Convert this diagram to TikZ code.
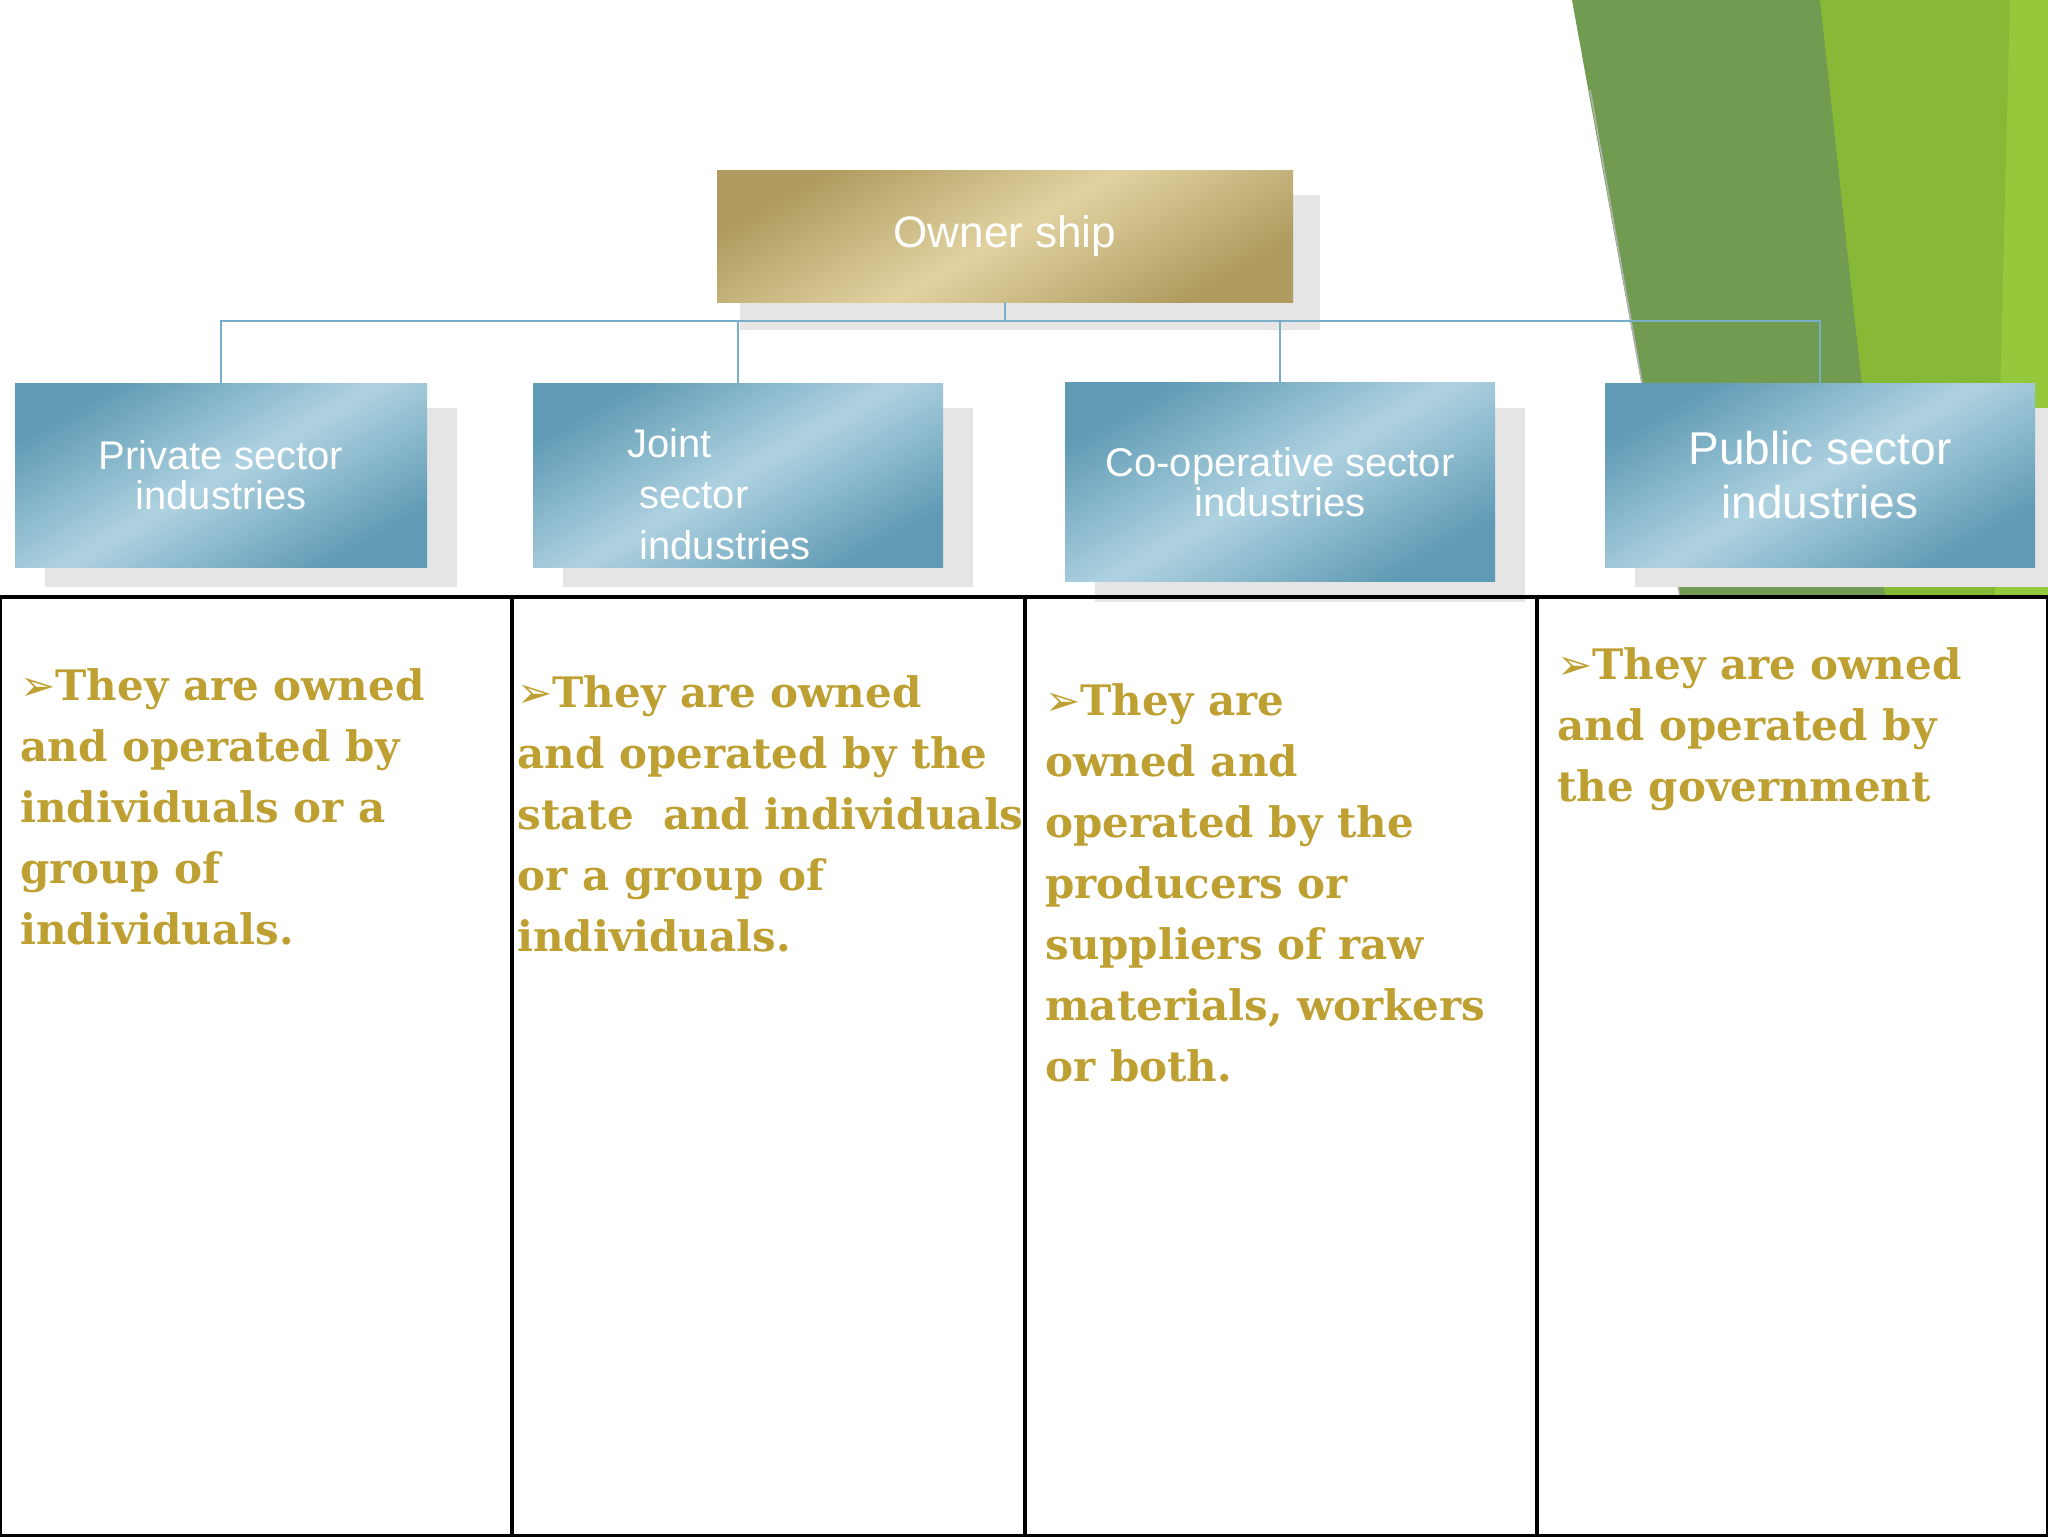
\documentclass[tikz,border=0pt]{standalone}
\usepackage{fontspec}
\setmainfont{Liberation Sans}
\newfontfamily\serifb{DejaVu Serif}
\newfontfamily\dejavu{DejaVu Sans}
\definecolor{goldt}{RGB}{190,160,50}
\definecolor{gold1}{RGB}{175,155,95}
\definecolor{gold2}{RGB}{225,210,160}
\definecolor{blue1}{RGB}{95,155,180}
\definecolor{blue2}{RGB}{175,210,225}
\definecolor{dgreen}{RGB}{112,155,80}
\definecolor{lgreen}{RGB}{135,185,55}
\definecolor{bgreen}{RGB}{150,200,60}
\definecolor{conn}{RGB}{120,175,200}
\tikzset{
  topbox/.style={draw=none,left color=gold1,right color=gold1,middle color=gold2,shading angle=30,text=white,font=\fontsize{22}{26}\selectfont,align=center,inner sep=0pt},
  catbox/.style={draw=none,left color=blue1,right color=blue1,middle color=blue2,shading angle=30,text=white,font=\fontsize{20}{20}\selectfont,align=center,inner sep=0pt},
  desc/.style={anchor=north west,text=goldt,font=\serifb\bfseries\fontsize{21}{30.5}\selectfont,align=left,inner sep=0pt},
  conline/.style={draw=conn,line width=1pt},
  tabline/.style={draw=black,line width=2pt}
}
\begin{document}
\begin{tikzpicture}[x=0.5pt,y=-0.5pt]
\useasboundingbox (0,0) rectangle (2048,1536);
\fill[white] (0,0) rectangle (2048,1536);
% green decoration
\fill[dgreen] (1572,0) -- (2048,0) -- (2048,597) -- (1680,597) -- cycle;
\fill[lgreen] (1820,0) -- (2048,0) -- (2048,597) -- (1885,597) -- cycle;
\fill[bgreen] (2010,0) -- (2048,0) -- (2048,597) -- (1995,597) -- cycle;
\draw[gray!60,line width=0.8pt] (1590,90) -- (1680,597);
% shadows
\fill[gray!20] (740,195) rectangle (1320,330);
\foreach \a/\b/\c/\d in {15/383/427/567,533/383/943/567,1065/383/1495/582,1605/383/2035/567}
  \fill[gray!20] (\a+30,\b+25) rectangle (\c+30,\d+20);
% top box
\node[topbox,minimum width=288pt,minimum height=66pt] (own) at (1005,236) {Owner ship};
% category boxes
\node[catbox,minimum width=206pt,minimum height=92pt] (priv) at (221,475) {Private sector\\industries};
\node[catbox,minimum width=205pt,minimum height=92pt] (joint) at (738,475) {};
\node[text=white,font=\fontsize{20}{25.5}\selectfont,align=left,anchor=north west,inner sep=0pt] (jointt) at (627,428) {Joint\\\hspace*{6pt}sector\\\hspace*{6pt}industries};
\node[catbox,minimum width=215pt,minimum height=99.5pt] (coop) at (1280,482) {Co-operative sector\\industries};
\node[catbox,minimum width=215pt,minimum height=92pt,font=\fontsize{23}{27}\selectfont] (pub) at (1820,475) {Public sector\\industries};
% connectors
\coordinate (hub) at (1005,321);
\draw[conline] (own.south) -- (hub);
\draw[conline] (priv.north) |- (hub);
\draw[conline] (joint.north) |- (hub);
\draw[conline] (coop.north) |- (hub);
\draw[conline] (pub.north) |- (hub);
% table
\draw[tabline] (0,597) rectangle (2048,1536);
\draw[tabline] (512,597) -- (512,1536);
\draw[tabline] (1025,597) -- (1025,1536);
\draw[tabline] (1537,597) -- (1537,1536);
% descriptions
\node[desc] (d1) at (20,668) {{\dejavu\mdseries ➢}They are owned\\and operated by\\individuals or a\\group of\\individuals.};
\node[desc] (d2) at (517,675) {{\dejavu\mdseries ➢}They are owned\\and operated by the\\state\ \ and individuals\\or a group of\\individuals.};
\node[desc] (d3) at (1045,683) {{\dejavu\mdseries ➢}They are\\owned and\\operated by the\\producers or\\suppliers of raw\\materials, workers\\or both.};
\node[desc] (d4) at (1557,647) {{\dejavu\mdseries ➢}They are owned\\and operated by\\the government};
\end{tikzpicture}
\end{document}
